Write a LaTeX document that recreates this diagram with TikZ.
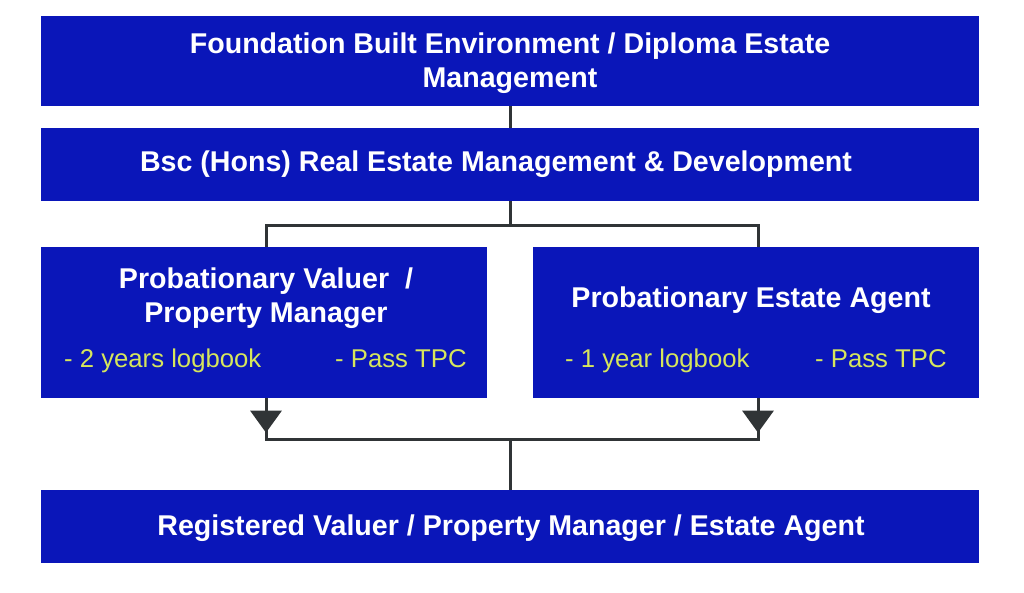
\documentclass[tikz,border=0pt]{standalone}
\usepackage{fontspec}
\setmainfont{Liberation Sans}
\usetikzlibrary{arrows.meta}
\definecolor{boxblue}{RGB}{10,22,185}
\definecolor{noteyellow}{RGB}{214,230,92}
\definecolor{linegray}{RGB}{48,52,54}
\tikzset{
  bluebox/.style={fill=boxblue, draw=none, inner sep=0pt},
  title/.style={text=white, inner sep=0pt, font=\bfseries\fontsize{28.6}{34}\selectfont, align=center},
  note/.style={text=noteyellow, inner sep=0pt, font=\fontsize{25.7}{30}\selectfont},
  conn/.style={draw=linegray, line width=3pt},
  arr/.style={draw=linegray, line width=3pt, -{Triangle[width=31pt,length=22pt]}}
}
\begin{document}
\begin{tikzpicture}[x=1pt,y=-1pt]
\useasboundingbox (0,0) rectangle (1024,593);
\fill[white] (0,0) rectangle (1024,593);
% boxes
\node[bluebox, minimum width=938pt, minimum height=90pt] (b1) at (510,61) {};
\node[bluebox, minimum width=938pt, minimum height=73pt] (b2) at (510,164.5) {};
\node[bluebox, minimum width=446pt, minimum height=150pt] (b3) at (264,322.5) {};
\node[bluebox, minimum width=446pt, minimum height=150pt] (b4) at (756,322.5) {};
\node[bluebox, minimum width=938pt, minimum height=73pt] (b5) at (510,526.5) {};
% box texts
\node[title, anchor=base] (t1) at (510,88) {Foundation Built Environment / Diploma Estate\\Management};
\node[title, anchor=base] (t2) at (496,172) {Bsc (Hons) Real Estate Management \& Development};
\node[title, anchor=base] (t3) at (266,322) {Probationary Valuer~~/\\Property Manager};
\node[title, anchor=base] (t4) at (751,308) {Probationary Estate Agent};
\node[title, anchor=base] (t5) at (511,535) {Registered Valuer / Property Manager / Estate Agent};
\node[note, anchor=base west] (n3a) at (64,367) {- 2 years logbook};
\node[note, anchor=base west] (n3b) at (335,367) {- Pass TPC};
\node[note, anchor=base west] (n4a) at (565,367) {- 1 year logbook};
\node[note, anchor=base west] (n4b) at (815,367) {- Pass TPC};
% connector coordinates
\coordinate (j1) at (510,226);
\coordinate (j2) at (510,439);
\coordinate (l3) at (266,0);
\coordinate (l4) at (758,0);
% connectors
\draw[conn] (b1.south) -- (b2.north);
\draw[conn] (b2.south) -- (j1);
\draw[conn] (l3 |- b3.north) |- (j1) -| (l4 |- b4.north);
\draw[conn] (l3 |- b3.south) |- (j2) -| (l4 |- b4.south);
\draw[arr] (l3 |- b3.south) -- ++(0,35);
\draw[arr] (l4 |- b4.south) -- ++(0,35);
\draw[conn] (j2) -- (b5.north);
\end{tikzpicture}
\end{document}
